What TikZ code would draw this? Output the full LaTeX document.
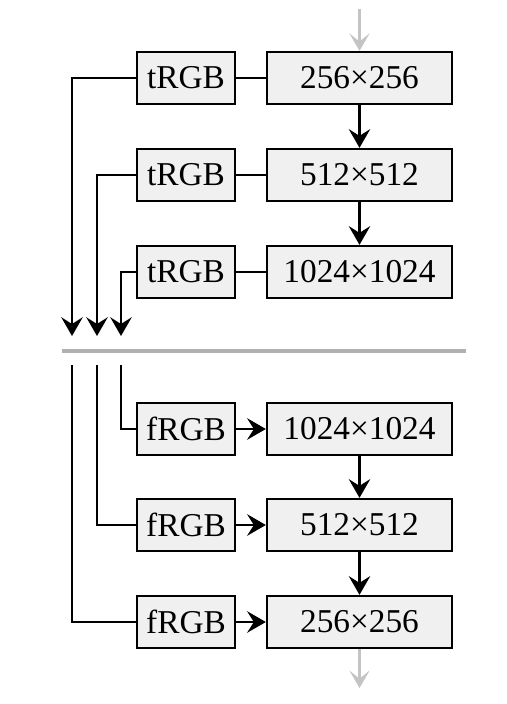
\documentclass[tikz,border=0pt]{standalone}
\usepackage{fontspec}
\setmainfont{Liberation Serif}
\usetikzlibrary{arrows.meta}
\definecolor{boxfill}{HTML}{F0F0F0}
\definecolor{lightgray}{HTML}{C4C4C4}
\definecolor{sepgray}{HTML}{B0B0B0}
\begin{document}
\begin{tikzpicture}[x=0.75pt,y=-0.75pt,
  rgbbox/.style={draw=black,line width=1.7pt,fill=boxfill,minimum width=98*0.75pt,minimum height=52*0.75pt,inner sep=0pt,font=\fontsize{25}{28}\selectfont},
  resbox/.style={rgbbox,minimum width=185*0.75pt},
  conn/.style={line width=2.2pt},
  arr/.style={conn,-{Stealth[length=14pt,width=16pt,inset=5pt]}},
  grayarr/.style={line width=2.2pt,draw=lightgray,-{Stealth[length=13pt,width=15pt,inset=6pt]}}]
\useasboundingbox (0,0) rectangle (507,704);
% top section
\node[rgbbox] (t1) at (186,78) {tRGB};
\node[resbox] (r1) at (359.5,78) {256×256};
\node[rgbbox] (t2) at (186,175) {tRGB};
\node[resbox] (r2) at (359.5,175) {512×512};
\node[rgbbox] (t3) at (186,272) {tRGB};
\node[resbox] (r3) at (359.5,272) {1024×1024};
% bottom section
\node[rgbbox] (f1) at (186,429) {fRGB};
\node[resbox] (s1) at (359.5,429) {1024×1024};
\node[rgbbox] (f2) at (186,525) {fRGB};
\node[resbox] (s2) at (359.5,525) {512×512};
\node[rgbbox] (f3) at (186,622) {fRGB};
\node[resbox] (s3) at (359.5,622) {256×256};
% coordinates
\coordinate (topin) at (359.5,9);
\coordinate (botout) at (359.5,688);
\coordinate (a1) at (72,336);
\coordinate (a2) at (97,336);
\coordinate (a3) at (121,336);
\coordinate (b1) at (72,365);
\coordinate (b2) at (97,365);
\coordinate (b3) at (121,365);
\coordinate (hl) at (62,351);
\coordinate (hr) at (466,351);
% gray
\draw[grayarr] (topin) -- (r1.north);
\draw[grayarr] (s3.south) -- (botout);
\draw[line width=2.4pt,draw=sepgray] (hl) -- (hr);
% top connections
\draw[conn] (t1) -- (r1);
\draw[conn] (t2) -- (r2);
\draw[conn] (t3) -- (r3);
\draw[arr] (r1) -- (r2);
\draw[arr] (r2) -- (r3);
\draw[arr] (t1.west) -| (a1);
\draw[arr] (t2.west) -| (a2);
\draw[arr] (t3.west) -| (a3);
% bottom connections
\draw[arr] (f1) -- (s1);
\draw[arr] (f2) -- (s2);
\draw[arr] (f3) -- (s3);
\draw[arr] (s1) -- (s2);
\draw[arr] (s2) -- (s3);
\draw[conn] (b3) |- (f1.west);
\draw[conn] (b2) |- (f2.west);
\draw[conn] (b1) |- (f3.west);
\end{tikzpicture}
\end{document}
